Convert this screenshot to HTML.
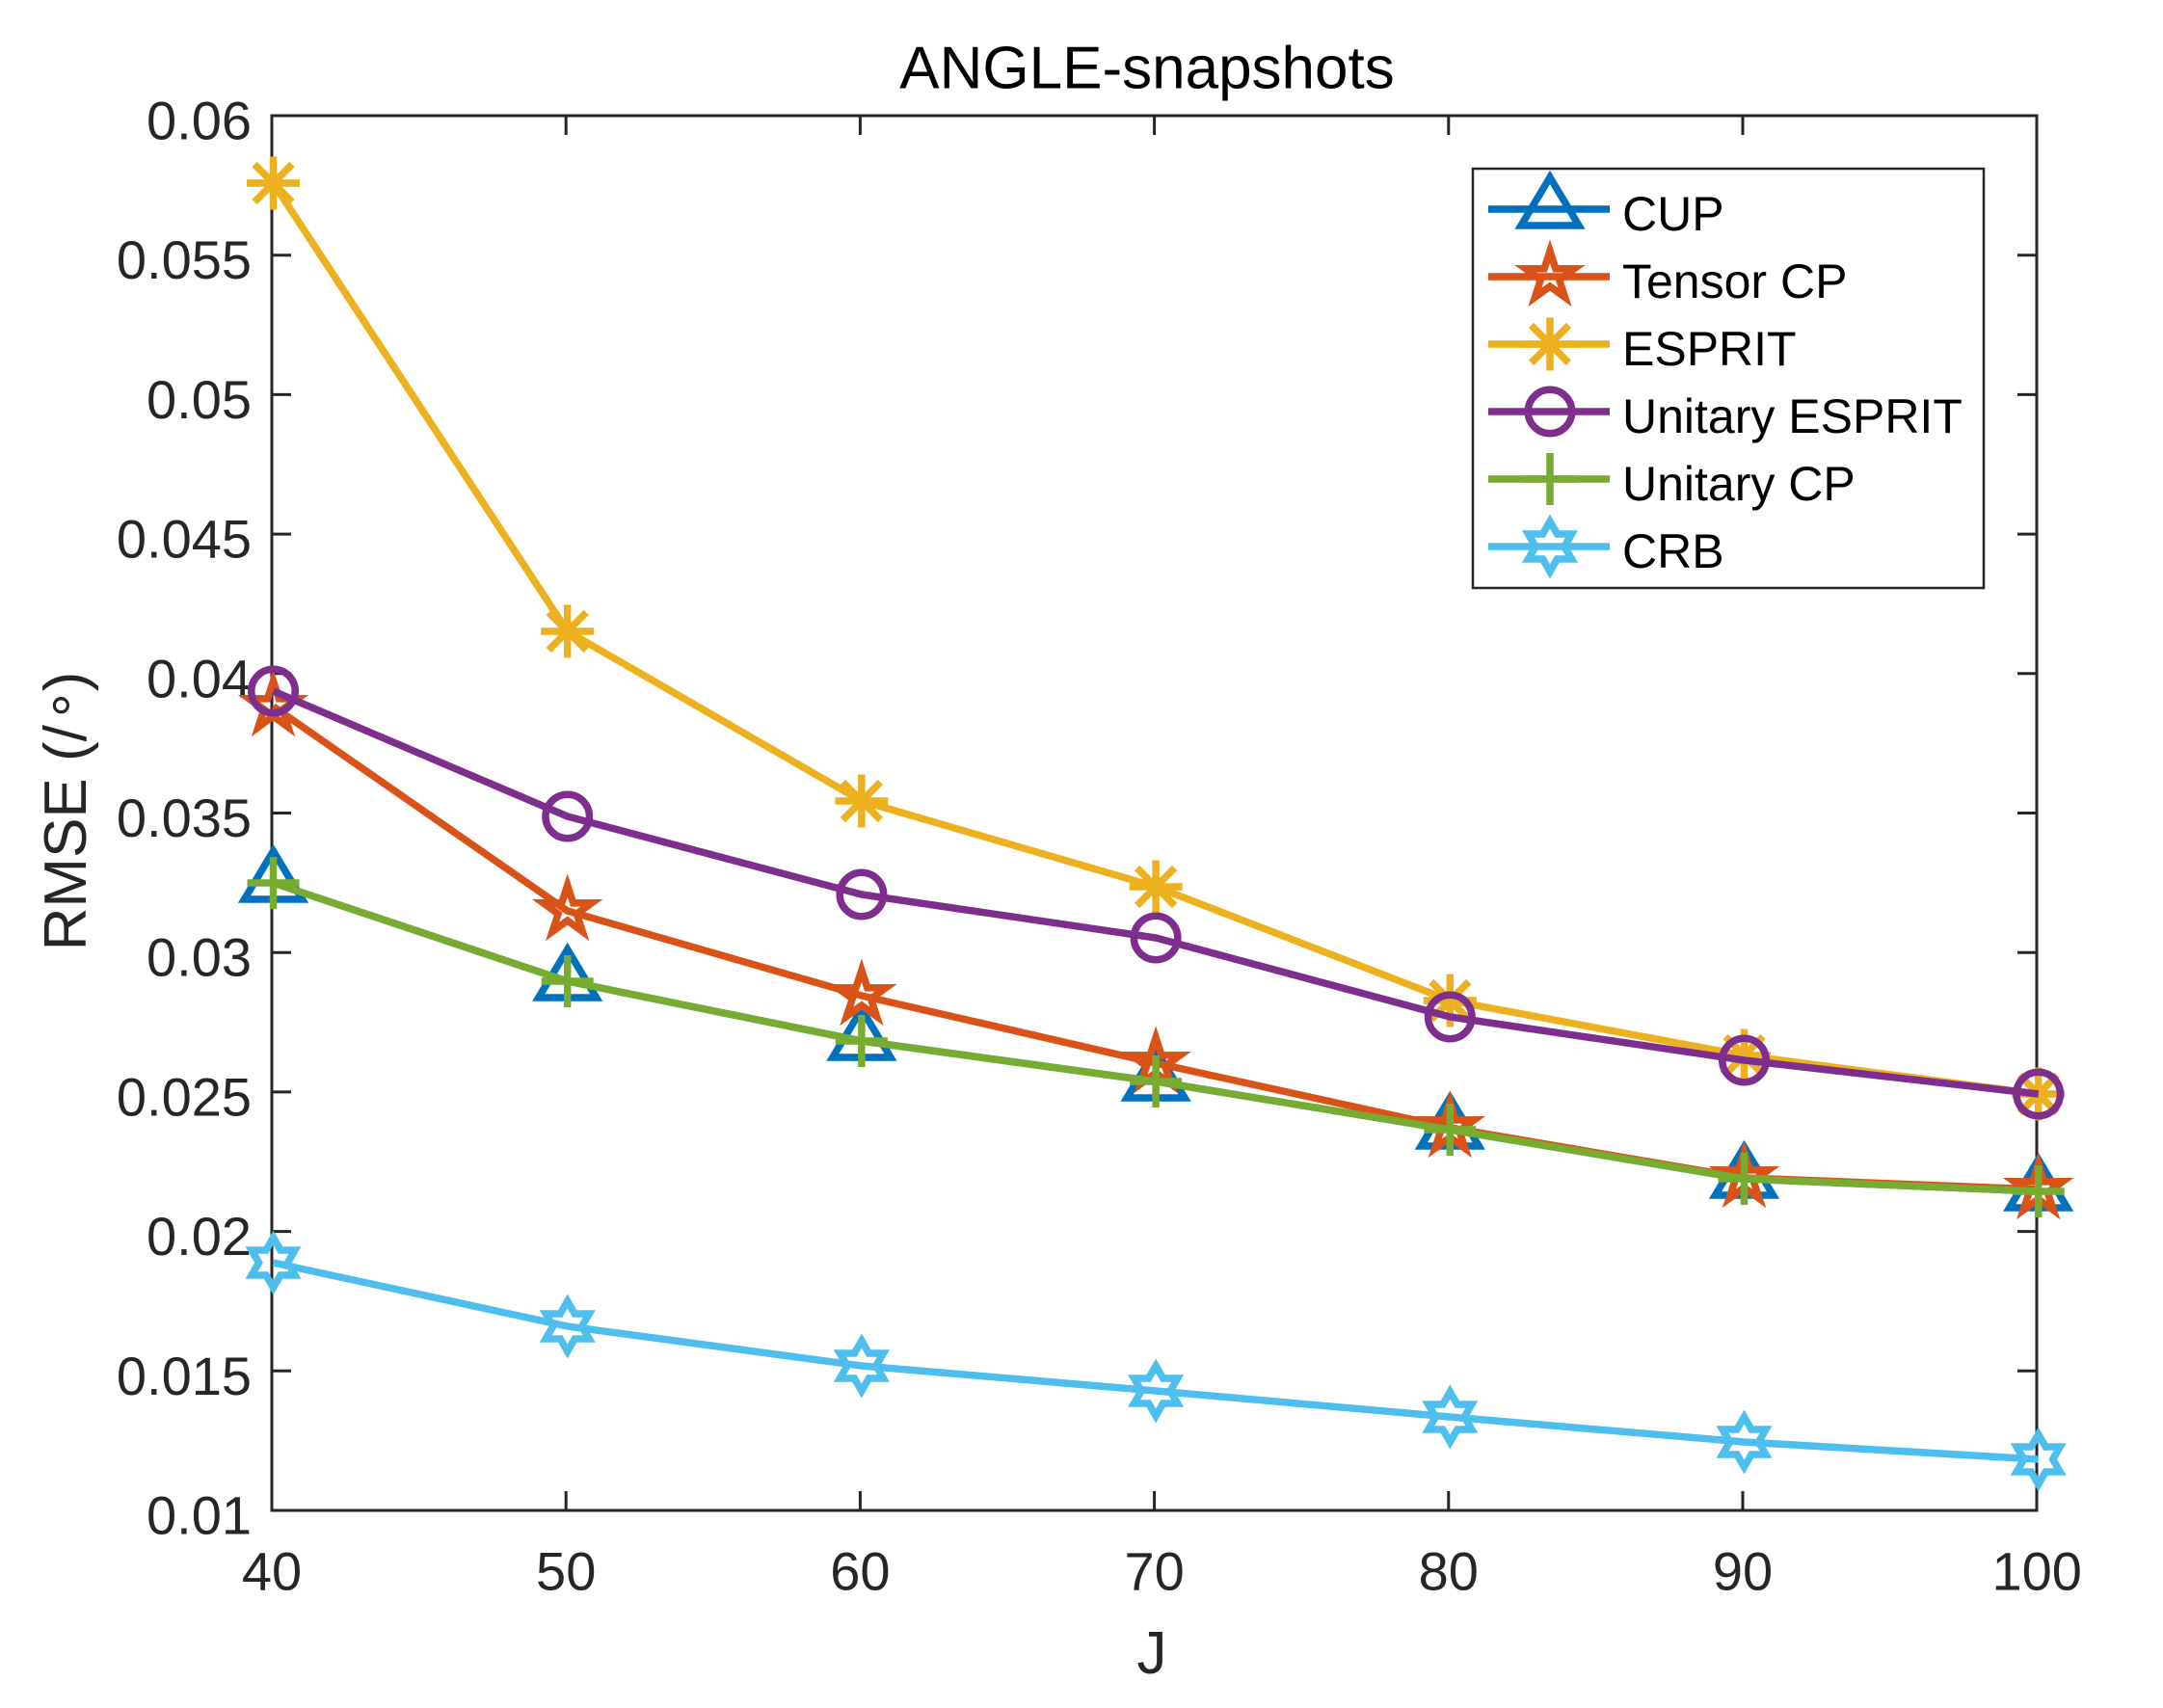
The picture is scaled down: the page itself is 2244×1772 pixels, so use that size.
<!DOCTYPE html>
<html>
<head>
<meta charset="utf-8">
<style>
  html, body { margin: 0; padding: 0; background: #ffffff; }
  svg { display: block; }
  text { font-family: "Liberation Sans", Arial, sans-serif; }
</style>
</head>
<body>
<svg xmlns="http://www.w3.org/2000/svg" xmlns:xlink="http://www.w3.org/1999/xlink" width="2244" height="1772" viewBox="0 0 2244 1772">
  <defs>
    <polygon id="tri" points="0,-33 30,17 -30,17" fill="none" stroke-linejoin="miter"/>
    <polygon id="pent" points="0,-26.5 5.94,-8.17 25.2,-8.19 9.61,3.12 15.58,21.44 0,10.1 -15.58,21.44 -9.61,3.12 -25.2,-8.19 -5.94,-8.17" fill="none" stroke-linejoin="miter" stroke-miterlimit="4"/>
    <path id="ast" d="M-27.5,0H27.5M0,-27.5V27.5M-19.5,-19.5L19.5,19.5M-19.5,19.5L19.5,-19.5" fill="none" stroke-linecap="butt"/>
    <circle id="circ" cx="0" cy="0" r="22.75" fill="none"/>
    <path id="plus" d="M-27,0H27M0,-27V27" fill="none" stroke-linecap="butt"/>
    <polygon id="hex" points="0,-26 7.5,-12.99 22.52,-13 15,0 22.52,13 7.5,12.99 0,26 -7.5,12.99 -22.52,13 -15,0 -22.52,-13 -7.5,-12.99" fill="none" stroke-linejoin="miter"/>
  </defs>

  <rect x="0" y="0" width="2244" height="1772" fill="#ffffff"/>

  <!-- Title -->
  <text x="1190" y="91.5" font-size="62" text-anchor="middle" fill="#000000">ANGLE-snapshots</text>

  <!-- Axes box -->
  <rect x="282" y="120" width="1831" height="1447" fill="none" stroke="#262626" stroke-width="3"/>

  <!-- Ticks -->
  <g stroke="#262626" stroke-width="3">
    <path d="M587.2,1567V1547M892.4,1567V1547M1197.6,1567V1547M1502.8,1567V1547M1808,1567V1547"/>
    <path d="M587.2,120V140M892.4,120V140M1197.6,120V140M1502.8,120V140M1808,120V140"/>
    <path d="M282,1422.3H302M282,1277.6H302M282,1132.9H302M282,988.2H302M282,843.5H302M282,698.8H302M282,554.1H302M282,409.4H302M282,264.7H302"/>
    <path d="M2113,1422.3H2093M2113,1277.6H2093M2113,1132.9H2093M2113,988.2H2093M2113,843.5H2093M2113,698.8H2093M2113,554.1H2093M2113,409.4H2093M2113,264.7H2093"/>
  </g>

  <!-- X tick labels -->
  <g font-size="56" fill="#262626" text-anchor="middle">
    <text x="282" y="1649.5">40</text>
    <text x="587.2" y="1649.5">50</text>
    <text x="892.4" y="1649.5">60</text>
    <text x="1197.6" y="1649.5">70</text>
    <text x="1502.8" y="1649.5">80</text>
    <text x="1808" y="1649.5">90</text>
    <text x="2113.2" y="1649.5">100</text>
  </g>

  <!-- Y tick labels -->
  <g font-size="56" fill="#262626" text-anchor="end">
    <text x="261" y="1591.5">0.01</text>
    <text x="261" y="1446.8">0.015</text>
    <text x="261" y="1302.1">0.02</text>
    <text x="261" y="1157.4">0.025</text>
    <text x="261" y="1012.7">0.03</text>
    <text x="261" y="868">0.035</text>
    <text x="261" y="723.3">0.04</text>
    <text x="261" y="578.6">0.045</text>
    <text x="261" y="433.9">0.05</text>
    <text x="261" y="289.2">0.055</text>
    <text x="261" y="144.5">0.06</text>
  </g>

  <!-- Axis labels -->
  <text x="1195" y="1736" font-size="62" fill="#262626" text-anchor="middle">J</text>
  <text transform="translate(89,841.5) rotate(-90)" x="0" y="0" font-size="62" fill="#262626" text-anchor="middle">RMSE (/<tspan dx="8" dy="9">°</tspan><tspan dx="2" dy="-9">)</tspan></text>

  <!-- Series -->
  <g stroke-width="7.5" fill="none" stroke-linejoin="round">
    <g stroke="#0072BD">
      <polyline points="283.5,916 588.7,1018 893.9,1080 1199.1,1122 1504.3,1172 1809.5,1223 2114.7,1236"/>
      <use xlink:href="#tri" href="#tri" x="283.5" y="916"/>
      <use xlink:href="#tri" href="#tri" x="588.7" y="1018"/>
      <use xlink:href="#tri" href="#tri" x="893.9" y="1080"/>
      <use xlink:href="#tri" href="#tri" x="1199.1" y="1122"/>
      <use xlink:href="#tri" href="#tri" x="1504.3" y="1172"/>
      <use xlink:href="#tri" href="#tri" x="1809.5" y="1223"/>
      <use xlink:href="#tri" href="#tri" x="2114.7" y="1236"/>
    </g>
    <g stroke="#D95319">
      <polyline points="283.5,733 588.7,945 893.9,1033 1199.1,1103 1504.3,1170 1809.5,1222 2114.7,1234"/>
      <use xlink:href="#pent" href="#pent" x="283.5" y="733"/>
      <use xlink:href="#pent" href="#pent" x="588.7" y="945"/>
      <use xlink:href="#pent" href="#pent" x="893.9" y="1033"/>
      <use xlink:href="#pent" href="#pent" x="1199.1" y="1103"/>
      <use xlink:href="#pent" href="#pent" x="1504.3" y="1170"/>
      <use xlink:href="#pent" href="#pent" x="1809.5" y="1222"/>
      <use xlink:href="#pent" href="#pent" x="2114.7" y="1234"/>
    </g>
    <g stroke="#EDB120">
      <polyline points="283.5,190 588.7,655 893.9,831 1199.1,920 1504.3,1038 1809.5,1095 2114.7,1135"/>
      <use xlink:href="#ast" href="#ast" x="283.5" y="190"/>
      <use xlink:href="#ast" href="#ast" x="588.7" y="655"/>
      <use xlink:href="#ast" href="#ast" x="893.9" y="831"/>
      <use xlink:href="#ast" href="#ast" x="1199.1" y="920"/>
      <use xlink:href="#ast" href="#ast" x="1504.3" y="1038"/>
      <use xlink:href="#ast" href="#ast" x="1809.5" y="1095"/>
      <use xlink:href="#ast" href="#ast" x="2114.7" y="1135"/>
    </g>
    <g stroke="#7E2F8E">
      <polyline points="283.5,717 588.7,847 893.9,928 1199.1,973 1504.3,1055 1809.5,1100 2114.7,1135"/>
      <use xlink:href="#circ" href="#circ" x="283.5" y="717"/>
      <use xlink:href="#circ" href="#circ" x="588.7" y="847"/>
      <use xlink:href="#circ" href="#circ" x="893.9" y="928"/>
      <use xlink:href="#circ" href="#circ" x="1199.1" y="973"/>
      <use xlink:href="#circ" href="#circ" x="1504.3" y="1055"/>
      <use xlink:href="#circ" href="#circ" x="1809.5" y="1100"/>
      <use xlink:href="#circ" href="#circ" x="2114.7" y="1135"/>
    </g>
    <g stroke="#77AC30">
      <polyline points="283.5,916 588.7,1018 893.9,1080 1199.1,1122 1504.3,1172 1809.5,1223 2114.7,1236"/>
      <use xlink:href="#plus" href="#plus" x="283.5" y="916"/>
      <use xlink:href="#plus" href="#plus" x="588.7" y="1018"/>
      <use xlink:href="#plus" href="#plus" x="893.9" y="1080"/>
      <use xlink:href="#plus" href="#plus" x="1199.1" y="1122"/>
      <use xlink:href="#plus" href="#plus" x="1504.3" y="1172"/>
      <use xlink:href="#plus" href="#plus" x="1809.5" y="1223"/>
      <use xlink:href="#plus" href="#plus" x="2114.7" y="1236"/>
    </g>
    <g stroke="#4DBEEE">
      <polyline points="283.5,1310 588.7,1376 893.9,1417 1199.1,1443 1504.3,1470 1809.5,1496 2114.7,1514"/>
      <use xlink:href="#hex" href="#hex" x="283.5" y="1310"/>
      <use xlink:href="#hex" href="#hex" x="588.7" y="1376"/>
      <use xlink:href="#hex" href="#hex" x="893.9" y="1417"/>
      <use xlink:href="#hex" href="#hex" x="1199.1" y="1443"/>
      <use xlink:href="#hex" href="#hex" x="1504.3" y="1470"/>
      <use xlink:href="#hex" href="#hex" x="1809.5" y="1496"/>
      <use xlink:href="#hex" href="#hex" x="2114.7" y="1514"/>
    </g>
  </g>

  <!-- Legend -->
  <rect x="1528" y="175" width="530" height="435" fill="#ffffff" stroke="#262626" stroke-width="2.5"/>
  <g stroke-width="7.5" fill="none">
    <g stroke="#0072BD"><path d="M1544,217H1670"/><use xlink:href="#tri" href="#tri" x="1608" y="217"/></g>
    <g stroke="#D95319"><path d="M1544,287H1670"/><use xlink:href="#pent" href="#pent" x="1608" y="287"/></g>
    <g stroke="#EDB120"><path d="M1544,357H1670"/><use xlink:href="#ast" href="#ast" x="1608" y="357"/></g>
    <g stroke="#7E2F8E"><path d="M1544,427H1670"/><use xlink:href="#circ" href="#circ" x="1608" y="427"/></g>
    <g stroke="#77AC30"><path d="M1544,497H1670"/><use xlink:href="#plus" href="#plus" x="1608" y="497"/></g>
    <g stroke="#4DBEEE"><path d="M1544,567H1670"/><use xlink:href="#hex" href="#hex" x="1608" y="567"/></g>
  </g>
  <g font-size="50" fill="#000000">
    <text x="1683" y="239">CUP</text>
    <text x="1683" y="309">Tensor CP</text>
    <text x="1683" y="379">ESPRIT</text>
    <text x="1683" y="449">Unitary ESPRIT</text>
    <text x="1683" y="519">Unitary CP</text>
    <text x="1683" y="589">CRB</text>
  </g>
</svg>
</body>
</html>
